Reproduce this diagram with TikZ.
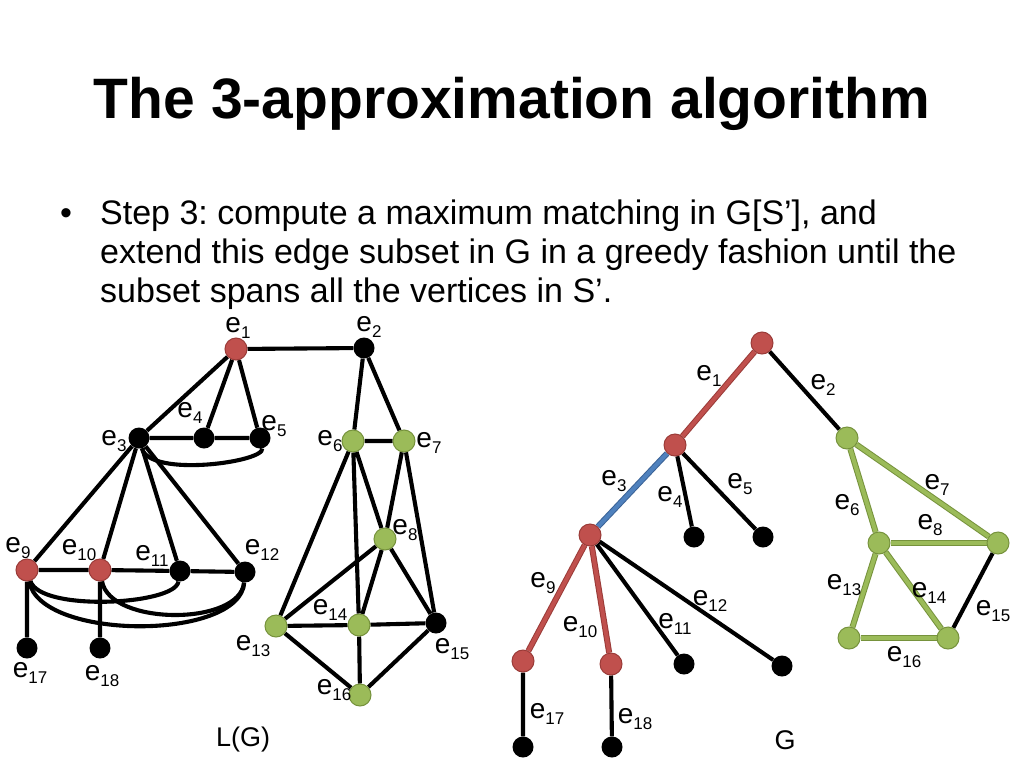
\documentclass[tikz,border=0pt]{standalone}
\usepackage{fontspec}
\setmainfont{Liberation Sans}
\usetikzlibrary{backgrounds}
\frenchspacing
\definecolor{nred}{HTML}{C0504D}
\definecolor{nredd}{HTML}{9A3B38}
\definecolor{ngreen}{HTML}{9BBB59}
\definecolor{ngreend}{HTML}{76923C}
\definecolor{nblue}{HTML}{4F81BD}
\definecolor{nblued}{HTML}{3A6296}
\newcommand{\lbl}[1]{{\fontsize{28}{28}\selectfont e}\raisebox{-6pt}{\fontsize{17}{17}\selectfont #1}}
\begin{document}
\begin{tikzpicture}[x=1pt,y=-1pt,
 vb/.style={circle, fill=black, minimum size=21pt, inner sep=0pt},
 vr/.style={circle, fill=nred, draw=nredd, line width=1pt, minimum size=22pt, inner sep=0pt},
 vg/.style={circle, fill=ngreen, draw=ngreend, line width=1pt, minimum size=22pt, inner sep=0pt},
 lab/.style={inner sep=0pt},
 ed/.style={line width=4.1pt},
 er/.style={draw=nredd, line width=6pt, postaction={draw=nred, line width=4pt}},
 eg/.style={draw=ngreend, line width=6pt, postaction={draw=ngreen, line width=4pt}},
 eb/.style={draw=nblued, line width=6pt, postaction={draw=nblue, line width=4pt}},
 body/.style={anchor=base west, inner sep=0pt, font=\fontsize{34}{34}\selectfont}
]
\useasboundingbox (0,0) rectangle (1024,768);
\begin{scope}[on background layer]
\fill[white] (0,0) rectangle (1024,768);
\end{scope}

% title and text
\node[anchor=base, inner sep=0pt, font=\bfseries\fontsize{57}{57}\selectfont] (title) at (512,118) {The 3-approximation algorithm};
\node[body] (bullet) at (60,224) {•};
\node[body] (t1) at (100,224) {Step 3: compute a maximum matching in G[S’], and};
\node[body] (t2) at (100,263) {extend this edge subset in G in a greedy fashion until the};
\node[body] (t3) at (100,302) {subset spans all the vertices in S’.};

% ---------- left graph L(G) ----------
\node[vr] (l1) at (236,349) {};
\node[vb] (l2) at (364,348) {};
\node[vb] (l3) at (139,438) {};
\node[vb] (l4) at (204,438) {};
\node[vb] (l5) at (260,438) {};
\node[vg] (l6) at (353,441) {};
\node[vg] (l7) at (404,441) {};
\node[vg] (l8) at (385,539) {};
\node[vr] (l9) at (27,570) {};
\node[vr] (l10) at (100,570) {};
\node[vb] (l11) at (180,571) {};
\node[vb] (l12) at (245,572) {};
\node[vg] (l13) at (276,626) {};
\node[vg] (l14) at (359,625) {};
\node[vb] (l15) at (436,623) {};
\node[vg] (l16) at (360,695) {};
\node[vb] (l17) at (27,648) {};
\node[vb] (l18) at (100,648) {};

\begin{scope}[on background layer]
\draw[ed] (l1)--(l2) (l1)--(l3) (l1)--(l4) (l1)--(l5) (l3)--(l4) (l4)--(l5)
 (l2)--(l6) (l2)--(l7) (l6)--(l7)
 (l3)--(l9) (l3)--(l10) (l3)--(l11) (l3)--(l12)
 (l9)--(l10) (l10)--(l11) (l11)--(l12) (l9)--(l17) (l10)--(l18)
 (l6)--(l13) (l6)--(l14) (l6)--(l8) (l7)--(l8) (l7)--(l15)
 (l8)--(l13) (l8)--(l14) (l8)--(l15) (l13)--(l14) (l14)--(l15)
 (l13)--(l16) (l14)--(l16) (l15)--(l16);
\draw[ed] (l3) .. controls (150,478) and (265,462) .. (l5);
\draw[ed] (l9) .. controls (40,612) and (175,605) .. (l11);
\draw[ed] (l10) .. controls (110,626) and (240,626) .. (l12);
\draw[ed] (l9) .. controls (40,641) and (240,641) .. (l12);
\end{scope}

\node[lab] (ll1) at (238,328) {\lbl{1}};
\node[lab] (ll2) at (369,327) {\lbl{2}};
\node[lab] (ll3) at (114,441) {\lbl{3}};
\node[lab] (ll4) at (190,413) {\lbl{4}};
\node[lab] (ll5) at (274,426) {\lbl{5}};
\node[lab] (ll6) at (330,441) {\lbl{6}};
\node[lab] (ll7) at (429,443) {\lbl{7}};
\node[lab] (ll8) at (405,530) {\lbl{8}};
\node[lab] (ll9) at (18,548) {\lbl{9}};
\node[lab] (ll10) at (79,550) {\lbl{10}};
\node[lab] (ll11) at (152,556) {\lbl{11}};
\node[lab] (ll12) at (262,550) {\lbl{12}};
\node[lab] (ll13) at (253,646) {\lbl{13}};
\node[lab] (ll14) at (330,610) {\lbl{14}};
\node[lab] (ll15) at (452,649) {\lbl{15}};
\node[lab] (ll16) at (334,690) {\lbl{16}};
\node[lab] (ll17) at (30,673) {\lbl{17}};
\node[lab] (ll18) at (102,676) {\lbl{18}};
\node[lab, font=\fontsize{27}{27}\selectfont] (lg) at (243,740) {L(G)};

% ---------- right graph G ----------
\node[vr] (gr) at (762,343) {};
\node[vr] (ga) at (675,445) {};
\node[vg] (gb) at (847,438) {};
\node[vr] (gc) at (590,535) {};
\node[vb] (gd) at (694,537) {};
\node[vb] (ge) at (763,537) {};
\node[vg] (gf) at (879,543) {};
\node[vg] (gh) at (998,543) {};
\node[vg] (gm) at (849,638) {};
\node[vg] (gn) at (948,638) {};
\node[vr] (gi) at (523,661) {};
\node[vr] (gj) at (611,664) {};
\node[vb] (gk) at (684,664) {};
\node[vb] (gl) at (782,666) {};
\node[vb] (go) at (523,747) {};
\node[vb] (gp) at (612,747) {};

\begin{scope}[on background layer]
\draw[ed] (gr)--(gb) (ga)--(gd) (ga)--(ge) (gc)--(gk) (gc)--(gl)
 (gh)--(gn) (gi)--(go) (gj)--(gp);
\draw[er] (gr)--(ga);
\draw[eb] (ga)--(gc);
\draw[er] (gc)--(gi);
\draw[er] (gc)--(gj);
\draw[eg] (gb)--(gf);
\draw[eg] (gb)--(gh);
\draw[eg] (gf)--(gh);
\draw[eg] (gf)--(gm);
\draw[eg] (gf)--(gn);
\draw[eg] (gm)--(gn);
\end{scope}

\node[lab] (gl1) at (709,376) {\lbl{1}};
\node[lab] (gl2) at (823,385) {\lbl{2}};
\node[lab] (gl3) at (614,481) {\lbl{3}};
\node[lab] (gl4) at (670,497) {\lbl{4}};
\node[lab] (gl5) at (740,484) {\lbl{5}};
\node[lab] (gl6) at (847,505) {\lbl{6}};
\node[lab] (gl7) at (937,485) {\lbl{7}};
\node[lab] (gl8) at (930,525) {\lbl{8}};
\node[lab] (gl9) at (543,583) {\lbl{9}};
\node[lab] (gl10) at (580,627) {\lbl{10}};
\node[lab] (gl11) at (675,624) {\lbl{11}};
\node[lab] (gl12) at (710,601) {\lbl{12}};
\node[lab] (gl13) at (844,585) {\lbl{13}};
\node[lab] (gl14) at (929,593) {\lbl{14}};
\node[lab] (gl15) at (993,611) {\lbl{15}};
\node[lab] (gl16) at (904,657) {\lbl{16}};
\node[lab] (gl17) at (547,714) {\lbl{17}};
\node[lab] (gl18) at (635,719) {\lbl{18}};
\node[lab, font=\fontsize{27}{27}\selectfont] (gg) at (785,740) {G};
\end{tikzpicture}
\end{document}
